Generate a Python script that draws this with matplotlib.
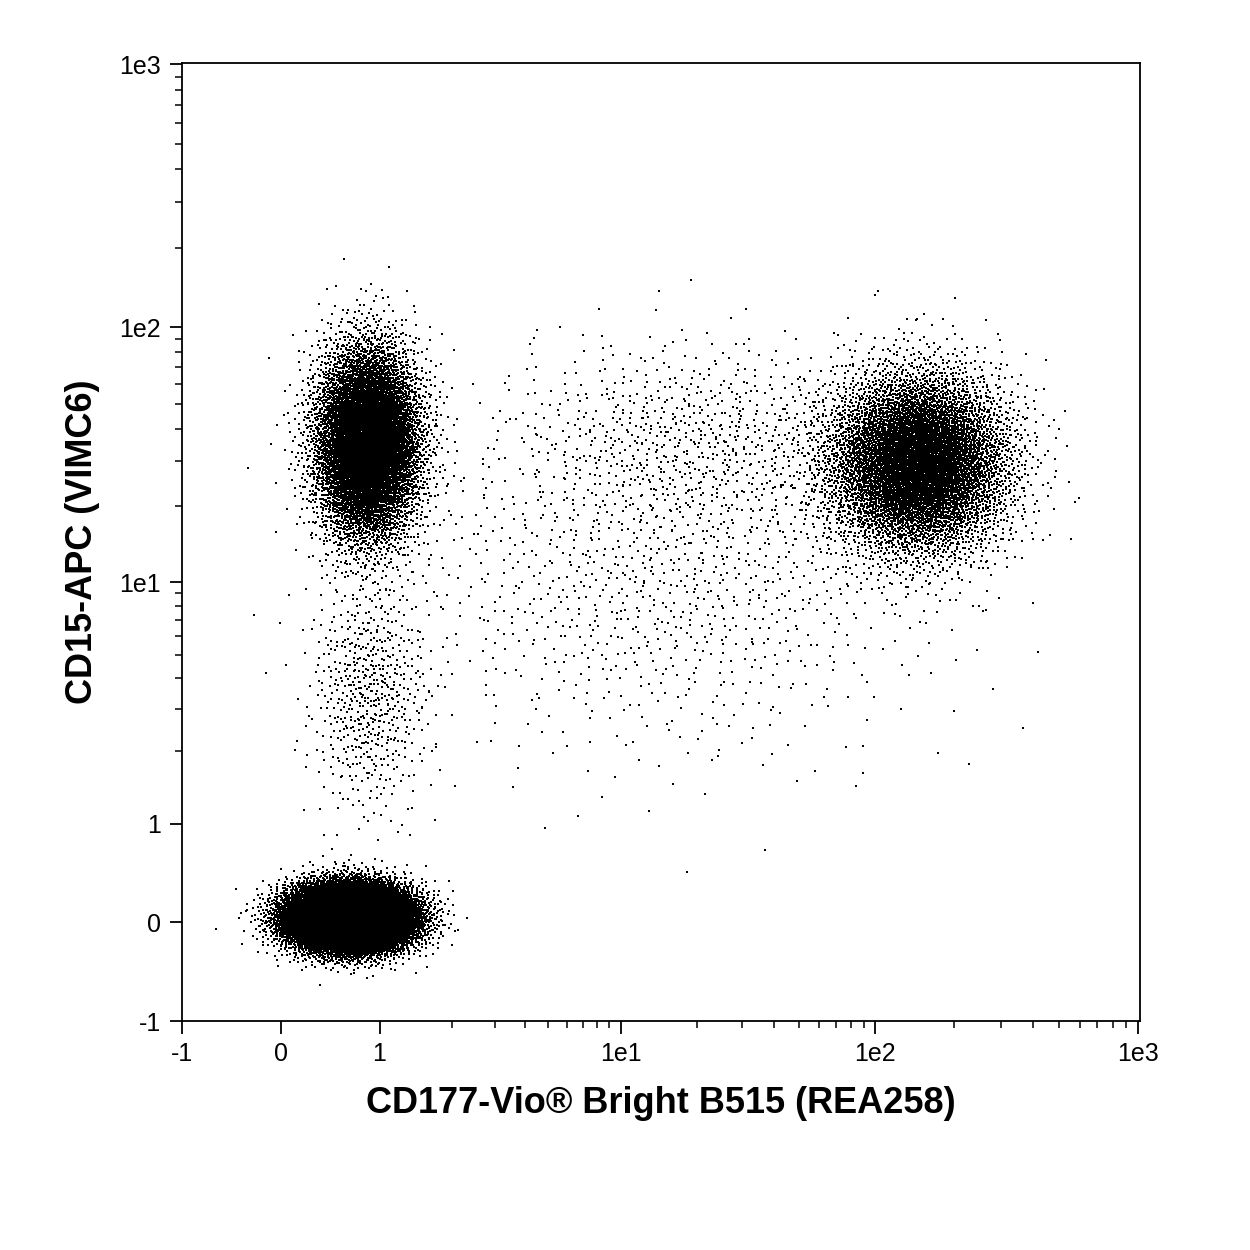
import numpy as np
import matplotlib
matplotlib.use("Agg")
import matplotlib.pyplot as plt

plt.rcParams['font.family'] = ['Liberation Sans', 'DejaVu Sans']

# populations, in display units (linear -1..1, log above)
pop_names = ["CD15-CD177-", "CD15+CD177-", "CD15+CD177+", "bridge", "tail", "upper"]
pop_x = [0.70, 0.88, 6.45, 3.9, 0.9, 4.2]
pop_y = [0.05, 4.85, 4.65, 3.5, 2.3, 4.9]
pop_sx = [0.30, 0.26, 0.45, 1.4, 0.30, 1.0]
pop_sy = [0.16, 0.48, 0.45, 0.9, 0.6, 0.5]
pop_n = [22000, 9000, 8000, 1100, 600, 700]

x_ticks = [-1, 0, 1, 10, 100, 1000]
x_labels = ["-1", "0", "1", "1e1", "1e2", "1e3"]
y_ticks = [-1, 0, 1, 10, 100, 1000]
y_labels = ["-1", "0", "1", "1e1", "1e2", "1e3"]
decade_pos = [1.0, 3.44, 6.02, 8.68]


def fwd(v):
    v = np.asarray(v, dtype=float)
    lg = np.log10(np.maximum(np.abs(v), 1e-9))
    return np.where(np.abs(v) <= 1, v, np.sign(v) * np.interp(lg, [0, 1, 2, 3], decade_pos))


def halton(n, base, skip):
    out = np.zeros(n)
    for i in range(n):
        k, f, r = i + 1 + skip, 1.0, 0.0
        while k > 0:
            f /= base
            r += f * (k % base)
            k //= base
        out[i] = r
    return out


def cloud(n, skip):
    u1 = np.clip(halton(n, 2, skip), 1e-6, 1)
    u2 = halton(n, 3, skip)
    r = np.sqrt(-2 * np.log(u1))
    return r * np.cos(2 * np.pi * u2), r * np.sin(2 * np.pi * u2)


fig = plt.figure(figsize=(12.5, 12.5), dpi=100)
ax = fig.add_axes([0.1456, 0.183, 0.7664, 0.767])

for i in range(len(pop_n)):
    gx, gy = cloud(pop_n[i], 37 * i + 11)
    ax.scatter(pop_x[i] + pop_sx[i] * gx, pop_y[i] + pop_sy[i] * gy,
               s=2.2, marker="s", c="black", linewidths=0)

ax.set_xlim(-1, decade_pos[-1] + 0.02)
ax.set_ylim(-1, decade_pos[-1] + 0.02)

minor = []
for d in [1, 10, 100]:
    minor += [d * m for m in range(2, 10)]
ax.set_xticks(fwd(x_ticks))
ax.set_xticklabels(x_labels, fontsize=18)
ax.set_yticks(fwd(y_ticks))
ax.set_yticklabels(y_labels, fontsize=18)
ax.set_xticks(fwd(minor), minor=True)
ax.set_yticks(fwd(minor), minor=True)
ax.tick_params(which="major", length=9, width=1.3, pad=6)
ax.tick_params(which="minor", length=5, width=1.1)
for s in ax.spines.values():
    s.set_linewidth(1.3)

ax.set_xlabel("CD177-Vio® Bright B515 (REA258)", fontsize=26, fontweight="bold", labelpad=14)
ax.set_ylabel("CD15-APC (VIMC6)", fontsize=26, fontweight="bold", labelpad=14)

fig.savefig("out.png", dpi=100)
